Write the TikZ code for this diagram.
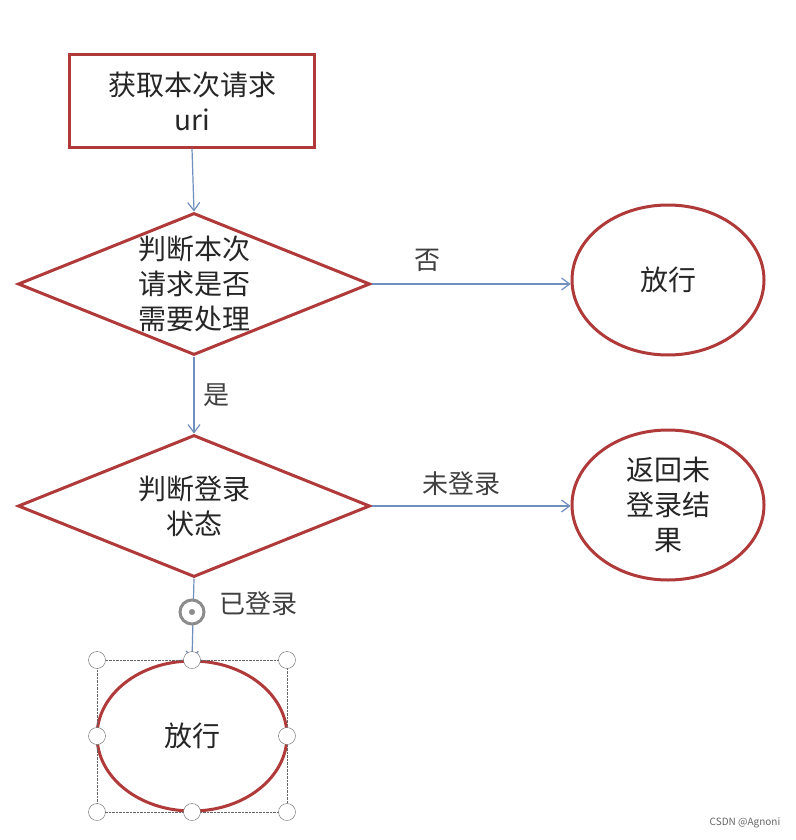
\documentclass[tikz,border=0pt]{standalone}
\usepackage{fontspec}
\setmainfont{Noto Sans CJK SC}
\usetikzlibrary{shapes.geometric,arrows.meta}
\definecolor{dred}{HTML}{B03A3A}
\definecolor{lblue}{HTML}{6F8FBF}
\begin{document}
\begin{tikzpicture}[x=1pt,y=-1pt,
  txt/.style={font=\fontsize{28}{35}\selectfont,align=center,text=black!85},
  redline/.style={draw=dred,line width=3pt},
  conn/.style={draw=lblue,line width=1.2pt,-{Straight Barb[length=8pt,width=12pt]}},
  lab/.style={font=\fontsize{26}{30}\selectfont,text=black!75},
  handle/.style={circle,draw=black!60,fill=white,minimum size=17pt,inner sep=0pt}]
\useasboundingbox (0,0) rectangle (795,840);
\fill[white] (0,0) rectangle (795,840);
\node[redline,txt,minimum width=245pt,minimum height=92pt,inner sep=0pt] (r) at (192,101) {获取本次请求\\uri};
\node[redline,txt,diamond,minimum width=352pt,minimum height=142pt,inner sep=0pt,aspect=2.48] (d1) at (194,284) {判断本次\\请求是否\\需要处理};
\node[redline,txt,ellipse,minimum width=192pt,minimum height=150pt,inner sep=0pt] (e1) at (668,280) {放行};
\node[redline,txt,diamond,minimum width=352pt,minimum height=142pt,inner sep=0pt,aspect=2.48] (d2) at (194,506) {判断登录\\状态};
\node[redline,txt,ellipse,minimum width=192pt,minimum height=150pt,inner sep=0pt] (e2) at (668,505) {返回未\\登录结\\果};
\node[redline,txt,ellipse,minimum width=190pt,minimum height=150pt,inner sep=0pt] (e3) at (192,736) {放行};
\draw[conn] (r.south -| 192,0) -- (d1.north);
\draw[conn] (d1.east) -- (e1.west |- d1.east) node[lab,pos=0.28,above=8pt] {否};
\draw[conn] (d1.south) -- (d2.north) node[lab,midway,right=6pt] {是};
\draw[conn] (d2.east) -- (e2.west |- d2.east) node[lab,pos=0.45,above=6pt] {未登录};
\coordinate (c3) at (192,660);
\draw[conn] (d2.south) -- (c3);
\node[lab] (l3) at (258,604) {已登录};
\node[circle,draw=black!45,line width=3pt,minimum size=24pt,inner sep=0pt,fill=white] (rot) at (192,612) {};
\node[circle,fill=black!45,minimum size=6pt,inner sep=0pt] (rotc) at (192,612) {};
\draw[black!60,densely dotted] (97,660) rectangle (287,812);
\foreach \x/\y [count=\i] in {97/660,192/660,287/660,97/736,287/736,97/812,192/812,287/812}
  \node[handle] (h\i) at (\x,\y) {};
\node[font=\fontsize{10}{12}\selectfont,text=black!60] (wm) at (745,823) {CSDN @Agnoni};
\end{tikzpicture}
\end{document}
